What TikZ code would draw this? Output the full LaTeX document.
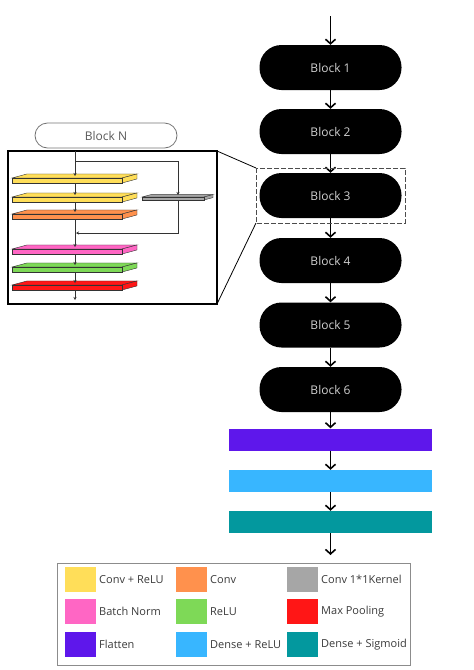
\documentclass[tikz,border=0pt]{standalone}
\usepackage{fontspec}
\setmainfont{Open Sans}
\usetikzlibrary{arrows.meta}
\definecolor{cyellow}{HTML}{FFDE59}
\definecolor{corange}{HTML}{FF914D}
\definecolor{cgray}{HTML}{A6A6A6}
\definecolor{cpink}{HTML}{FF66C4}
\definecolor{cgreen}{HTML}{7ED957}
\definecolor{cred}{HTML}{FF1616}
\definecolor{cpurple}{HTML}{5E17EB}
\definecolor{cblue}{HTML}{38B6FF}
\definecolor{cteal}{HTML}{03989E}
\definecolor{blocktxt}{HTML}{D0D0D0}
\definecolor{legtxt}{HTML}{3A3A3A}
\newcommand\mkslab[6]{% x, y, w, h, depth, color
  \draw[slabedge,fill=#6] (#1,#2) -- ++(#5,-#5*0.27) -- ++(#3,0) -- ++(-#5,#5*0.27) -- cycle;
  \draw[slabedge,fill=#6] (#1+#3,#2) -- ++(#5,-#5*0.27) -- ++(0,#4) -- ++(-#5,#5*0.27) -- cycle;
  \draw[slabedge,fill=#6] (#1,#2) rectangle ++(#3,#4);
}
\begin{document}
\begin{tikzpicture}[x=1pt,y=-1pt,
  blockbox/.style={fill=black,rounded corners=22pt,minimum width=142pt,minimum height=45pt,inner sep=0pt,text=blocktxt,font=\fontsize{12}{14}\selectfont},
  densebox/.style={minimum width=203pt,minimum height=22pt,inner sep=0pt},
  mainarrow/.style={line width=1.6pt,-{Straight Barb[length=4.5pt,width=10pt,line width=1.6pt]}},
  thinarrow/.style={line width=0.7pt,draw=black!80,-{Stealth[length=3pt,width=3pt]}},
  slabedge/.style={line width=0.4pt,draw=black!80},
  swatch/.style={minimum width=31pt,minimum height=25pt,inner sep=0pt},
  legtext/.style={anchor=west,inner sep=0pt,text=legtxt,font=\fontsize{11}{13}\selectfont}]
\useasboundingbox (0,0) rectangle (474,670);

% main column
\node[blockbox] (b1) at (330.5,67.5) {Block 1};
\node[blockbox] (b2) at (330.5,131.5) {Block 2};
\node[blockbox] (b3) at (330.5,195.5) {Block 3};
\node[blockbox] (b4) at (330.5,260.5) {Block 4};
\node[blockbox] (b5) at (330.5,325) {Block 5};
\node[blockbox] (b6) at (330.5,389.5) {Block 6};
\node[densebox,fill=cpurple] (d1) at (330.5,439.5) {};
\node[densebox,fill=cblue] (d2) at (330.5,481) {};
\node[densebox,fill=cteal] (d3) at (330.5,522) {};
\coordinate (in) at (330.5,16);
\coordinate (out) at (330.5,555);
\draw[mainarrow] (in) -- (b1.north);
\draw[mainarrow] (b1) -- (b2);
\draw[mainarrow] (b2) -- (b3);
\draw[mainarrow] (b3) -- (b4);
\draw[mainarrow] (b4) -- (b5);
\draw[mainarrow] (b5) -- (b6);
\draw[mainarrow] (b6) -- (d1);
\draw[mainarrow] (d1) -- (d2);
\draw[mainarrow] (d2) -- (d3);
\draw[mainarrow] (d3) -- (out);

% dashed focus box
\draw[dash pattern=on 5pt off 2pt,line width=0.9pt,draw=black!70] (256,168) coordinate (fa) rectangle (405,223) coordinate (fb);
\coordinate (fc) at (256,223);

% inset
\node[draw=black!55,line width=0.8pt,rounded corners=12.5pt,minimum width=142pt,minimum height=25pt,inner sep=0pt,text=black!65,font=\fontsize{12}{14}\selectfont] (bn) at (106,135.5) {Block N};
\draw[line width=2pt] (8,151) rectangle (217,304);
\coordinate (ia) at (217,151);
\coordinate (ib) at (217,304);
\draw[line width=0.8pt] (ia) -- (fa);
\draw[line width=0.8pt] (ib) -- (fc);

% slabs
\mkslab{12}{178}{110}{5}{15}{cyellow}
\mkslab{12}{197}{110}{5}{15}{cyellow}
\mkslab{12}{214}{110}{5}{15}{corange}
\mkslab{12}{249}{110}{5}{15}{cpink}
\mkslab{12}{267}{110}{5}{15}{cgreen}
\mkslab{12}{285}{110}{5}{15}{cred}
\mkslab{142}{197}{62}{3}{9}{cgray}

% inset connectors
\coordinate (s0) at (75,151);
\coordinate (s1t) at (75,176);
\coordinate (s1b) at (75,183);
\coordinate (s2t) at (75,195);
\coordinate (s2b) at (75,202);
\coordinate (s3t) at (75,212);
\coordinate (s3b) at (75,219);
\coordinate (s4t) at (75,247);
\coordinate (s4b) at (75,254);
\coordinate (s5t) at (75,265);
\coordinate (s5b) at (75,272);
\coordinate (s6t) at (75,283);
\coordinate (s6b) at (75,290);
\coordinate (s7) at (75,300);
\coordinate (sk0) at (75,161);
\coordinate (gt) at (178,195);
\coordinate (gb) at (178,200);
\coordinate (mg) at (76,233);
\draw[thinarrow] (s0) -- (s1t);
\draw[thinarrow] (s1b) -- (s2t);
\draw[thinarrow] (s2b) -- (s3t);
\draw[thinarrow] (s3b) -- (s4t);
\draw[thinarrow] (s4b) -- (s5t);
\draw[thinarrow] (s5b) -- (s6t);
\draw[thinarrow] (s6b) -- (s7);
\draw[thinarrow] (sk0) -| (gt);
\draw[thinarrow] (gb) |- (mg);

% legend
\draw[draw=black!45,line width=1pt] (57,563) rectangle (410,665);
\node[swatch,fill=cyellow] (l1) at (80.5,579.5) {};
\node[swatch,fill=corange] (l2) at (191.5,579.5) {};
\node[swatch,fill=cgray] (l3) at (302.5,579.5) {};
\node[swatch,fill=cpink] (l4) at (80.5,611.5) {};
\node[swatch,fill=cgreen] (l5) at (191.5,611.5) {};
\node[swatch,fill=cred] (l6) at (302.5,611.5) {};
\node[swatch,fill=cpurple] (l7) at (80.5,644.5) {};
\node[swatch,fill=cblue] (l8) at (191.5,644.5) {};
\node[swatch,fill=cteal] (l9) at (302.5,644.5) {};
\node[legtext] at (99,579.5) {Conv + ReLU};
\node[legtext] at (210,579.5) {Conv};
\node[legtext] at (321,579.5) {Conv 1*1Kernel};
\node[legtext] at (99,611.5) {Batch Norm};
\node[legtext] at (210,611.5) {ReLU};
\node[legtext] at (321,611.5) {Max Pooling};
\node[legtext] at (99,644.5) {Flatten};
\node[legtext] at (210,644.5) {Dense + ReLU};
\node[legtext] at (321,644.5) {Dense + Sigmoid};
\end{tikzpicture}
\end{document}
